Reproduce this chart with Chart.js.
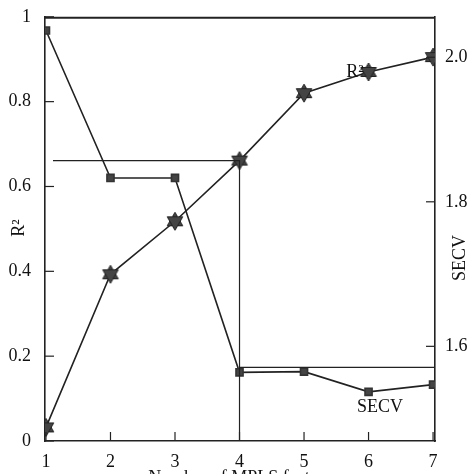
<!DOCTYPE html>
<html><head><meta charset="utf-8">
<script src="https://cdn.jsdelivr.net/npm/chart.js@4/dist/chart.umd.min.js"></script>
<style>html,body{margin:0;padding:0;background:#fff}#w{width:474px;height:474px}</style>
</head><body><div id="w"><canvas id="c"></canvas></div>
<script>
const factors = [1,2,3,4,5,6,7];
const r2Values = [0.032,0.393,0.518,0.661,0.82,0.87,0.905];
const secvValues = [2.037,1.833,1.833,1.564,1.565,1.537,1.547];
const r2Ticks = [0,0.2,0.4,0.6,0.8,1];
const secvTicks = [1.6,1.8,2.0];
const optimumFactor = 4, optimumR2 = 0.661, optimumSECV = 1.571;

function hexagram(){
  const s=20,c=document.createElement('canvas');c.width=s;c.height=s;
  const g=c.getContext('2d');g.fillStyle='#444';g.strokeStyle='#222';g.lineWidth=1;
  const r=9,cx=10,cy=10;
  for(const off of [-Math.PI/2,Math.PI/2]){
    g.beginPath();
    for(let i=0;i<3;i++){const a=off+i*2*Math.PI/3;g[i?'lineTo':'moveTo'](cx+r*Math.cos(a),cy+r*Math.sin(a));}
    g.closePath();g.fill();g.stroke();
  }
  return c;
}
const font={family:'"Liberation Serif", serif',size:18};
const deco={id:'deco',afterDraw(ch){
  const {ctx,scales:{x,y,y2},chartArea:a}=ch;ctx.save();
  ctx.strokeStyle='#222';ctx.lineWidth=2;
  ctx.beginPath();ctx.moveTo(a.left,a.top+1);ctx.lineTo(a.right,a.top+1);ctx.stroke();
  ctx.lineWidth=1.2;
  r2Ticks.forEach(v=>{const p=y.getPixelForValue(v);ctx.beginPath();ctx.moveTo(a.left,p);ctx.lineTo(a.left+9,p);ctx.stroke();});
  secvTicks.forEach(v=>{const p=y2.getPixelForValue(v);ctx.beginPath();ctx.moveTo(a.right,p);ctx.lineTo(a.right-9,p);ctx.stroke();});
  factors.forEach(v=>{const p=x.getPixelForValue(v);ctx.beginPath();ctx.moveTo(p,a.bottom);ctx.lineTo(p,a.bottom-9);ctx.stroke();});
  const px=x.getPixelForValue(optimumFactor),py=y.getPixelForValue(optimumR2),ps=y2.getPixelForValue(optimumSECV);
  ctx.beginPath();ctx.moveTo(a.left+8,py);ctx.lineTo(px,py);ctx.lineTo(px,a.bottom);ctx.stroke();
  ctx.beginPath();ctx.moveTo(px,ps);ctx.lineTo(a.right,ps);ctx.stroke();
  ctx.fillStyle='#111';ctx.font='18px "Liberation Serif", serif';ctx.textAlign='center';ctx.textBaseline='middle';
  ctx.fillText('R²',355,72);ctx.fillText('SECV',380,407);
  ctx.fillText('Number of MPLS factors',240,478);
  ctx.save();ctx.translate(19,228);ctx.rotate(-Math.PI/2);ctx.fillText('R²',0,0);ctx.restore();
  ctx.save();ctx.translate(460,258);ctx.rotate(-Math.PI/2);ctx.fillText('SECV',0,0);ctx.restore();
  ctx.restore();
}};
new Chart(document.getElementById('c'),{
  type:'line',
  data:{labels:factors,datasets:[
    {label:'R²',data:factors.map((f,i)=>({x:f,y:r2Values[i]})),yAxisID:'y',borderColor:'#222',borderWidth:1.6,pointStyle:hexagram(),pointRadius:9},
    {label:'SECV',data:factors.map((f,i)=>({x:f,y:secvValues[i]})),yAxisID:'y2',borderColor:'#222',borderWidth:1.6,pointStyle:'rect',pointRadius:5,pointBackgroundColor:'#444',pointBorderColor:'#333'}
  ]},
  plugins:[deco],
  options:{responsive:true,maintainAspectRatio:false,animation:false,
    layout:{padding:{top:-16}},
    plugins:{legend:{display:false},tooltip:{enabled:false}},
    scales:{
      x:{type:'linear',min:0.985,max:7.03,grid:{display:false},border:{color:'#222',width:1.6},
        afterBuildTicks(s){s.ticks=factors.map(v=>({value:v}));},
        afterFit(s){s.height=33;},
        ticks:{color:'#111',font,padding:2,callback:v=>String(v)}},
      y:{min:0,max:1,position:'left',grid:{display:false},border:{color:'#222',width:1.6},
        afterBuildTicks(s){s.ticks=r2Ticks.map(v=>({value:v}));},
        afterFit(s){s.width=45;},
        ticks:{color:'#111',font,padding:6,callback:v=>String(+v.toFixed(1))}},
      y2:{min:1.469,max:2.056,position:'right',grid:{display:false},border:{color:'#222',width:1.6},
        afterBuildTicks(s){s.ticks=secvTicks.map(v=>({value:v}));},
        afterFit(s){s.width=39;},
        ticks:{color:'#111',font,padding:2,callback:v=>v.toFixed(1)}}
    }}
});
</script></body></html>
